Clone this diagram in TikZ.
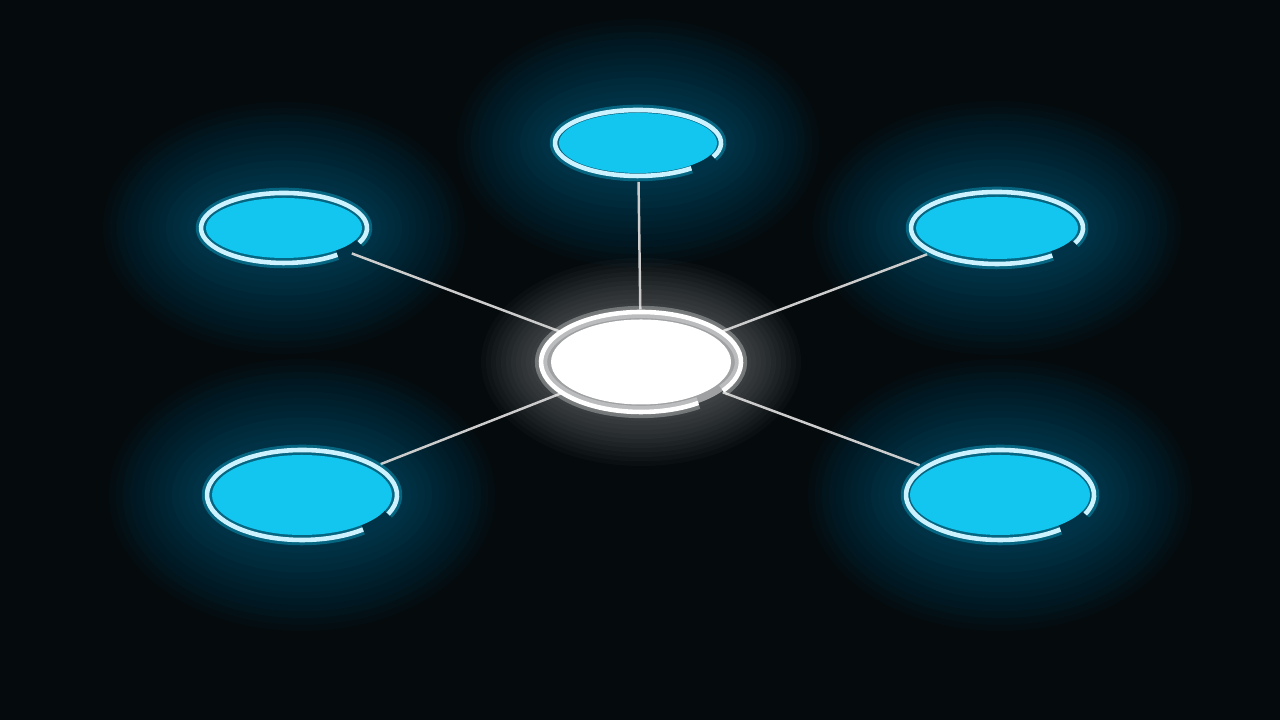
\documentclass[tikz,border=0pt]{standalone}
\usepackage{tikz}
\usetikzlibrary{shapes.geometric}
\definecolor{bgdark}{RGB}{5,10,13}
\definecolor{nodeblue}{RGB}{18,198,240}
\definecolor{glowblue}{RGB}{0,140,190}
\definecolor{ringblue}{RGB}{205,242,255}
\pgfdeclarelayer{glow}
\pgfsetlayers{glow,main}

\begin{document}
\begin{tikzpicture}[
  leaf/.style = {ellipse, fill = nodeblue, inner sep = 0pt},
  hub/.style = {ellipse, fill = white, inner sep = 0pt, minimum width = 1.8cm, minimum height = 0.85cm, outer sep = 0.1cm},
  ring/.style = {draw = ringblue, line width = 1.3pt},
  link/.style = {draw = white!80!black, line width = 0.7pt}
]
\useasboundingbox (0,0) rectangle (12.8,7.2);

% nodes
\node[hub] (C) at (6.41,3.58) {};
\node[leaf, minimum width = 1.58cm, minimum height = 0.6cm, outer sep = 0.09cm] (T) at (6.38,5.77) {};
\node[leaf, minimum width = 1.56cm, minimum height = 0.6cm, outer sep = 0.1cm] (TL) at (2.84,4.92) {};
\node[leaf, minimum width = 1.62cm, minimum height = 0.62cm, outer sep = 0.1cm] (TR) at (9.97,4.92) {};
\node[leaf, minimum width = 1.8cm, minimum height = 0.8cm, outer sep = 0.1cm] (BL) at (3.02,2.25) {};
\node[leaf, minimum width = 1.8cm, minimum height = 0.8cm, outer sep = 0.1cm] (BR) at (10.00,2.25) {};

% background, glow and links
\begin{pgfonlayer}{glow}
  \fill[bgdark] (0,0) rectangle (12.8,7.2);
  \foreach \n/\a/\b in {T/0.83/0.33, TL/0.83/0.35, TR/0.86/0.36, BL/0.95/0.45, BR/0.94/0.45} {
    \foreach \k in {1,...,14}
      \fill[glowblue, opacity = 0.032] (\n.center) ellipse ({\a+0.07*\k} and {\b+0.065*\k});
  }
  \foreach \k in {1,...,12}
    \fill[white, opacity = 0.025] (C.center) ellipse ({1.0+0.05*\k} and {0.5+0.045*\k});
  \fill[white, opacity = 0.5] (C.center) ellipse (1.0 and 0.5);
  \draw[link] (C) -- (T);
  \draw[link] (C) -- (TL);
  \draw[link] (C) -- (TR);
  \draw[link] (C) -- (BL);
  \draw[link] (C) -- (BR);
\end{pgfonlayer}

% rings
\foreach \n/\a/\b in {T/0.83/0.33, TL/0.83/0.35, TR/0.86/0.36, BL/0.95/0.45, BR/0.94/0.45} {
  \draw[ring, draw = nodeblue, line width = 3pt, opacity = 0.35] (\n.center) ++(-25:\a cm and \b cm) arc[start angle = -25, delta angle = 335, x radius = \a, y radius = \b];
  \draw[ring] (\n.center) ++(-25:\a cm and \b cm) arc[start angle = -25, delta angle = 335, x radius = \a, y radius = \b];
}
\draw[ring, draw = white, line width = 3.5pt, opacity = 0.3] (C.center) ++(-35:1.0cm and 0.5cm) arc[start angle = -35, delta angle = 340, x radius = 1.0, y radius = 0.5];
\draw[ring, draw = white] (C.center) ++(-35:1.0cm and 0.5cm) arc[start angle = -35, delta angle = 340, x radius = 1.0, y radius = 0.5];
\end{tikzpicture}
\end{document}
